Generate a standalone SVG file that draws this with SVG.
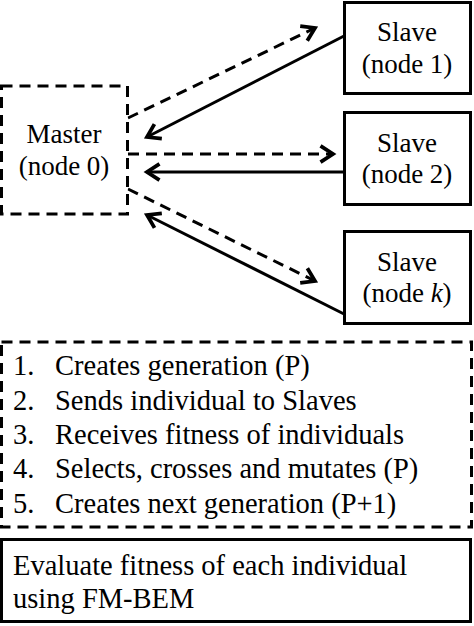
<svg xmlns="http://www.w3.org/2000/svg" width="474" height="626" viewBox="0 0 474 626">
<style>
.t{font-family:"Liberation Serif","Times New Roman",serif;font-size:27px;fill:#000}
.b{font-size:28.5px}
.c{text-anchor:middle}
.box{fill:#fff;stroke:#000;stroke-width:3}
.dash{stroke-dasharray:11 7}
.ln{stroke:#000;stroke-width:3;fill:none;marker-end:url(#ah)}
</style>
<defs>
<marker id="ah" markerUnits="userSpaceOnUse" markerWidth="20" markerHeight="20" viewBox="-12 -8 14 16" refX="0" refY="0" orient="auto" overflow="visible">
<path d="M -10 -6.5 L 0 0 L -10 6.5" fill="none" stroke="#000" stroke-width="3" stroke-dasharray="none"/>
</marker>
</defs>
<g id="connectors">
<line class="ln dash" x1="128" y1="118" x2="315" y2="28"/>
<line class="ln" x1="344" y1="36" x2="147" y2="137"/>
<line class="ln dash" x1="128" y1="154" x2="333" y2="154"/>
<line class="ln" x1="344" y1="172" x2="147" y2="172"/>
<line class="ln dash" x1="128" y1="189" x2="315" y2="281"/>
<line class="ln" x1="344" y1="314" x2="147" y2="215"/>
</g>
<g id="master">
<rect class="box dash" x="1.5" y="86" width="126" height="128" fill="none"/>
<text class="t c" x="64" y="143">Master</text>
<text class="t c" x="64" y="175">(node 0)</text>
</g>
<g id="slave1">
<rect class="box" x="344.5" y="2.5" width="126" height="91"/>
<text class="t c" x="407" y="41">Slave</text>
<text class="t c" x="407" y="73">(node 1)</text>
</g>
<g id="slave2">
<rect class="box" x="344.5" y="112.5" width="126" height="92"/>
<text class="t c" x="407" y="152">Slave</text>
<text class="t c" x="407" y="183">(node 2)</text>
</g>
<g id="slavek">
<rect class="box" x="344.5" y="231.5" width="126" height="92"/>
<text class="t c" x="407" y="271">Slave</text>
<text class="t c" x="407" y="302">(node <tspan font-style="italic">k</tspan>)</text>
</g>
<g id="steps">
<rect class="box dash" x="1.5" y="342" width="470" height="185"/>
<text class="t b" x="13" y="375">1.</text><text class="t b" x="55" y="375">Creates generation (P)</text>
<text class="t b" x="13" y="410">2.</text><text class="t b" x="55" y="410">Sends individual to Slaves</text>
<text class="t b" x="13" y="444">3.</text><text class="t b" x="55" y="444">Receives fitness of individuals</text>
<text class="t b" x="13" y="478">4.</text><text class="t b" x="55" y="478">Selects, crosses and mutates (P)</text>
<text class="t b" x="13" y="513">5.</text><text class="t b" x="55" y="513">Creates next generation (P+1)</text>
</g>
<g id="evaluate">
<rect class="box" x="1.5" y="539.5" width="469" height="82"/>
<text class="t b" x="13" y="575">Evaluate fitness of each individual</text>
<text class="t b" x="13" y="608">using FM-BEM</text>
</g>
</svg>
